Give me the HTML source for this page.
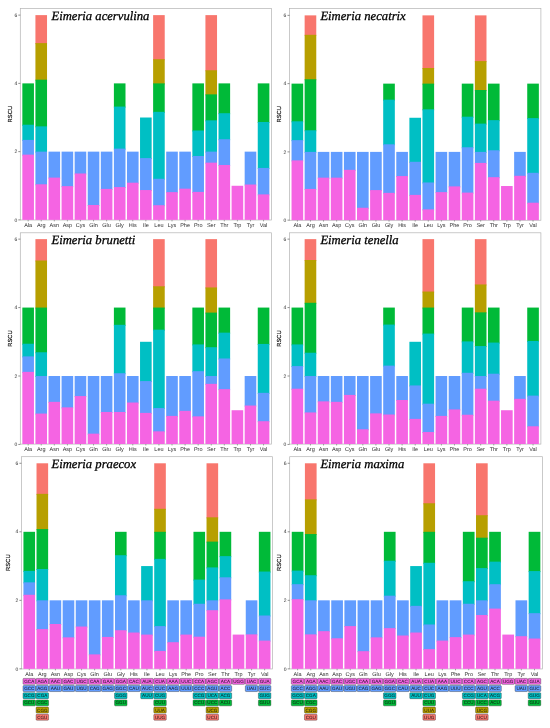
<!DOCTYPE html>
<html lang="en"><head><meta charset="utf-8"><title>RSCU of Eimeria species</title>
<style>html,body{margin:0;padding:0;background:#fff}svg{display:block}.t{font-family:"Liberation Serif",serif;font-weight:normal;font-style:italic;font-size:12.65px;fill:#000;stroke:#000;stroke-width:0.3px}.x{font-family:"Liberation Sans",sans-serif;font-size:5.5px;fill:#2e2e2e;text-anchor:middle}.y{font-family:"Liberation Sans",sans-serif;font-size:5.0px;fill:#222;text-anchor:end}.r{font-family:"Liberation Sans",sans-serif;font-size:5.85px;fill:#000;stroke:#000;stroke-width:0.15px;text-anchor:middle}.c{font-family:"Liberation Sans",sans-serif;font-size:4.6px;fill:#111;text-anchor:middle}</style></head><body>
<svg width="550" height="728" viewBox="0 0 550 728" text-rendering="geometricPrecision">
<rect x="0" y="0" width="550" height="728" fill="#fff"/>
<g>
<rect x="20.3" y="8.5" width="251.1" height="211.5" fill="none" stroke="#b3b3b3" stroke-width="0.7"/>
<rect x="22.34" y="83.38" width="11.61" height="42.33" fill="#00BA38"/>
<rect x="22.34" y="124.71" width="11.61" height="16.19" fill="#00BFC4"/>
<rect x="22.34" y="139.9" width="11.61" height="15.74" fill="#619CFF"/>
<rect x="22.34" y="154.64" width="11.61" height="65.26" fill="#F564E3"/>
<rect x="35.42" y="15.12" width="11.61" height="28.99" fill="#F8766D"/>
<rect x="35.42" y="43.11" width="11.61" height="37.59" fill="#B79F00"/>
<rect x="35.42" y="79.69" width="11.61" height="47.66" fill="#00BA38"/>
<rect x="35.42" y="126.35" width="11.61" height="26.29" fill="#00BFC4"/>
<rect x="35.42" y="151.64" width="11.61" height="33.66" fill="#619CFF"/>
<rect x="35.42" y="184.3" width="11.61" height="35.6" fill="#F564E3"/>
<rect x="48.5" y="151.64" width="11.61" height="26.97" fill="#619CFF"/>
<rect x="48.5" y="177.61" width="11.61" height="42.29" fill="#F564E3"/>
<rect x="61.57" y="151.64" width="11.61" height="35.51" fill="#619CFF"/>
<rect x="61.57" y="186.15" width="11.61" height="33.75" fill="#F564E3"/>
<rect x="74.65" y="151.64" width="11.61" height="22.84" fill="#619CFF"/>
<rect x="74.65" y="173.48" width="11.61" height="46.42" fill="#F564E3"/>
<rect x="87.73" y="151.64" width="11.61" height="54.35" fill="#619CFF"/>
<rect x="87.73" y="204.99" width="11.61" height="14.91" fill="#F564E3"/>
<rect x="100.81" y="151.64" width="11.61" height="38.27" fill="#619CFF"/>
<rect x="100.81" y="188.91" width="11.61" height="30.99" fill="#F564E3"/>
<rect x="113.89" y="83.38" width="11.61" height="24.21" fill="#00BA38"/>
<rect x="113.89" y="106.59" width="11.61" height="43.05" fill="#00BFC4"/>
<rect x="113.89" y="148.64" width="11.61" height="39.43" fill="#619CFF"/>
<rect x="113.89" y="187.07" width="11.61" height="32.83" fill="#F564E3"/>
<rect x="126.97" y="151.64" width="11.61" height="32.06" fill="#619CFF"/>
<rect x="126.97" y="182.7" width="11.61" height="37.2" fill="#F564E3"/>
<rect x="140.04" y="117.51" width="11.61" height="41.58" fill="#00BFC4"/>
<rect x="140.04" y="158.09" width="11.61" height="32.95" fill="#619CFF"/>
<rect x="140.04" y="190.04" width="11.61" height="29.86" fill="#F564E3"/>
<rect x="153.12" y="15.12" width="11.61" height="45.1" fill="#F8766D"/>
<rect x="153.12" y="59.22" width="11.61" height="25.16" fill="#B79F00"/>
<rect x="153.12" y="83.38" width="11.61" height="29.46" fill="#00BA38"/>
<rect x="153.12" y="111.84" width="11.61" height="67.93" fill="#00BFC4"/>
<rect x="153.12" y="178.77" width="11.61" height="27.45" fill="#619CFF"/>
<rect x="153.12" y="205.22" width="11.61" height="14.68" fill="#F564E3"/>
<rect x="166.2" y="151.64" width="11.61" height="41.48" fill="#619CFF"/>
<rect x="166.2" y="192.12" width="11.61" height="27.78" fill="#F564E3"/>
<rect x="179.28" y="151.64" width="11.61" height="38.03" fill="#619CFF"/>
<rect x="179.28" y="188.67" width="11.61" height="31.23" fill="#F564E3"/>
<rect x="192.36" y="83.38" width="11.61" height="48.1" fill="#00BA38"/>
<rect x="192.36" y="130.48" width="11.61" height="26.53" fill="#00BFC4"/>
<rect x="192.36" y="156.01" width="11.61" height="36.9" fill="#619CFF"/>
<rect x="192.36" y="191.91" width="11.61" height="27.99" fill="#F564E3"/>
<rect x="205.43" y="15.12" width="11.61" height="56.15" fill="#F8766D"/>
<rect x="205.43" y="70.27" width="11.61" height="25.1" fill="#B79F00"/>
<rect x="205.43" y="94.37" width="11.61" height="26.97" fill="#00BA38"/>
<rect x="205.43" y="120.34" width="11.61" height="32.3" fill="#00BFC4"/>
<rect x="205.43" y="151.64" width="11.61" height="12.02" fill="#619CFF"/>
<rect x="205.43" y="162.66" width="11.61" height="57.24" fill="#F564E3"/>
<rect x="218.51" y="83.38" width="11.61" height="30.83" fill="#00BA38"/>
<rect x="218.51" y="113.21" width="11.61" height="27.01" fill="#00BFC4"/>
<rect x="218.51" y="139.22" width="11.61" height="26.77" fill="#619CFF"/>
<rect x="218.51" y="164.98" width="11.61" height="54.92" fill="#F564E3"/>
<rect x="231.59" y="185.77" width="11.61" height="34.13" fill="#F564E3"/>
<rect x="244.67" y="151.64" width="11.61" height="33.9" fill="#619CFF"/>
<rect x="244.67" y="184.54" width="11.61" height="35.36" fill="#F564E3"/>
<rect x="257.75" y="83.38" width="11.61" height="39.6" fill="#00BA38"/>
<rect x="257.75" y="121.98" width="11.61" height="46.97" fill="#00BFC4"/>
<rect x="257.75" y="167.95" width="11.61" height="27.45" fill="#619CFF"/>
<rect x="257.75" y="194.4" width="11.61" height="25.5" fill="#F564E3"/>
<line x1="18.3" y1="219.9" x2="20.3" y2="219.9" stroke="#444" stroke-width="0.6"/>
<text class="y" x="17.2" y="221.55">0</text>
<line x1="18.3" y1="151.64" x2="20.3" y2="151.64" stroke="#444" stroke-width="0.6"/>
<text class="y" x="17.2" y="153.29">2</text>
<line x1="18.3" y1="83.38" x2="20.3" y2="83.38" stroke="#444" stroke-width="0.6"/>
<text class="y" x="17.2" y="85.03">4</text>
<line x1="18.3" y1="15.12" x2="20.3" y2="15.12" stroke="#444" stroke-width="0.6"/>
<text class="y" x="17.2" y="16.77">6</text>
<line x1="28.15" y1="219.9" x2="28.15" y2="221.4" stroke="#555" stroke-width="0.5"/>
<text class="x" x="28.15" y="226.65">Ala</text>
<line x1="41.22" y1="219.9" x2="41.22" y2="221.4" stroke="#555" stroke-width="0.5"/>
<text class="x" x="41.22" y="226.65">Arg</text>
<line x1="54.3" y1="219.9" x2="54.3" y2="221.4" stroke="#555" stroke-width="0.5"/>
<text class="x" x="54.3" y="226.65">Asn</text>
<line x1="67.38" y1="219.9" x2="67.38" y2="221.4" stroke="#555" stroke-width="0.5"/>
<text class="x" x="67.38" y="226.65">Asp</text>
<line x1="80.46" y1="219.9" x2="80.46" y2="221.4" stroke="#555" stroke-width="0.5"/>
<text class="x" x="80.46" y="226.65">Cys</text>
<line x1="93.54" y1="219.9" x2="93.54" y2="221.4" stroke="#555" stroke-width="0.5"/>
<text class="x" x="93.54" y="226.65">Gln</text>
<line x1="106.62" y1="219.9" x2="106.62" y2="221.4" stroke="#555" stroke-width="0.5"/>
<text class="x" x="106.62" y="226.65">Glu</text>
<line x1="119.69" y1="219.9" x2="119.69" y2="221.4" stroke="#555" stroke-width="0.5"/>
<text class="x" x="119.69" y="226.65">Gly</text>
<line x1="132.77" y1="219.9" x2="132.77" y2="221.4" stroke="#555" stroke-width="0.5"/>
<text class="x" x="132.77" y="226.65">His</text>
<line x1="145.85" y1="219.9" x2="145.85" y2="221.4" stroke="#555" stroke-width="0.5"/>
<text class="x" x="145.85" y="226.65">Ile</text>
<line x1="158.93" y1="219.9" x2="158.93" y2="221.4" stroke="#555" stroke-width="0.5"/>
<text class="x" x="158.93" y="226.65">Leu</text>
<line x1="172.01" y1="219.9" x2="172.01" y2="221.4" stroke="#555" stroke-width="0.5"/>
<text class="x" x="172.01" y="226.65">Lys</text>
<line x1="185.08" y1="219.9" x2="185.08" y2="221.4" stroke="#555" stroke-width="0.5"/>
<text class="x" x="185.08" y="226.65">Phe</text>
<line x1="198.16" y1="219.9" x2="198.16" y2="221.4" stroke="#555" stroke-width="0.5"/>
<text class="x" x="198.16" y="226.65">Pro</text>
<line x1="211.24" y1="219.9" x2="211.24" y2="221.4" stroke="#555" stroke-width="0.5"/>
<text class="x" x="211.24" y="226.65">Ser</text>
<line x1="224.32" y1="219.9" x2="224.32" y2="221.4" stroke="#555" stroke-width="0.5"/>
<text class="x" x="224.32" y="226.65">Thr</text>
<line x1="237.4" y1="219.9" x2="237.4" y2="221.4" stroke="#555" stroke-width="0.5"/>
<text class="x" x="237.4" y="226.65">Trp</text>
<line x1="250.47" y1="219.9" x2="250.47" y2="221.4" stroke="#555" stroke-width="0.5"/>
<text class="x" x="250.47" y="226.65">Tyr</text>
<line x1="263.55" y1="219.9" x2="263.55" y2="221.4" stroke="#555" stroke-width="0.5"/>
<text class="x" x="263.55" y="226.65">Val</text>
<text class="r" transform="translate(11.7 114.1) rotate(-90)">RSCU</text>
<text class="t" x="51.45" y="20.4">Eimeria acervulina</text>
</g>
<g>
<rect x="289.5" y="8.5" width="251.4" height="211.75" fill="none" stroke="#b3b3b3" stroke-width="0.7"/>
<rect x="291.54" y="83.63" width="11.63" height="38.68" fill="#00BA38"/>
<rect x="291.54" y="121.31" width="11.63" height="19.84" fill="#00BFC4"/>
<rect x="291.54" y="140.15" width="11.63" height="21.24" fill="#619CFF"/>
<rect x="291.54" y="160.39" width="11.63" height="59.76" fill="#F564E3"/>
<rect x="304.64" y="15.37" width="11.63" height="20.45" fill="#F8766D"/>
<rect x="304.64" y="34.82" width="11.63" height="45.44" fill="#B79F00"/>
<rect x="304.64" y="79.26" width="11.63" height="52.02" fill="#00BA38"/>
<rect x="304.64" y="130.29" width="11.63" height="22.6" fill="#00BFC4"/>
<rect x="304.64" y="151.89" width="11.63" height="38.03" fill="#619CFF"/>
<rect x="304.64" y="188.92" width="11.63" height="31.23" fill="#F564E3"/>
<rect x="317.73" y="151.89" width="11.63" height="26.77" fill="#619CFF"/>
<rect x="317.73" y="177.66" width="11.63" height="42.49" fill="#F564E3"/>
<rect x="330.82" y="151.89" width="11.63" height="26.77" fill="#619CFF"/>
<rect x="330.82" y="177.66" width="11.63" height="42.49" fill="#F564E3"/>
<rect x="343.92" y="151.89" width="11.63" height="18.95" fill="#619CFF"/>
<rect x="343.92" y="169.84" width="11.63" height="50.31" fill="#F564E3"/>
<rect x="357.01" y="151.89" width="11.63" height="56.87" fill="#619CFF"/>
<rect x="357.01" y="207.76" width="11.63" height="12.39" fill="#F564E3"/>
<rect x="370.11" y="151.89" width="11.63" height="39.19" fill="#619CFF"/>
<rect x="370.11" y="190.08" width="11.63" height="30.07" fill="#F564E3"/>
<rect x="383.2" y="83.63" width="11.63" height="17.04" fill="#00BA38"/>
<rect x="383.2" y="99.67" width="11.63" height="45.64" fill="#00BFC4"/>
<rect x="383.2" y="144.31" width="11.63" height="49.53" fill="#619CFF"/>
<rect x="383.2" y="192.85" width="11.63" height="27.3" fill="#F564E3"/>
<rect x="396.29" y="151.89" width="11.63" height="25.16" fill="#619CFF"/>
<rect x="396.29" y="176.05" width="11.63" height="44.1" fill="#F564E3"/>
<rect x="409.39" y="117.76" width="11.63" height="45.03" fill="#00BFC4"/>
<rect x="409.39" y="161.79" width="11.63" height="34.11" fill="#619CFF"/>
<rect x="409.39" y="194.89" width="11.63" height="25.26" fill="#F564E3"/>
<rect x="422.48" y="15.37" width="11.63" height="53.63" fill="#F8766D"/>
<rect x="422.48" y="68" width="11.63" height="16.63" fill="#B79F00"/>
<rect x="422.48" y="83.63" width="11.63" height="26.7" fill="#00BA38"/>
<rect x="422.48" y="109.33" width="11.63" height="74.14" fill="#00BFC4"/>
<rect x="422.48" y="182.47" width="11.63" height="27.93" fill="#619CFF"/>
<rect x="422.48" y="209.4" width="11.63" height="10.75" fill="#F564E3"/>
<rect x="435.57" y="151.89" width="11.63" height="41.24" fill="#619CFF"/>
<rect x="435.57" y="192.13" width="11.63" height="28.02" fill="#F564E3"/>
<rect x="448.67" y="151.89" width="11.63" height="35.51" fill="#619CFF"/>
<rect x="448.67" y="186.4" width="11.63" height="33.75" fill="#F564E3"/>
<rect x="461.76" y="83.63" width="11.63" height="34.07" fill="#00BA38"/>
<rect x="461.76" y="116.7" width="11.63" height="31.58" fill="#00BFC4"/>
<rect x="461.76" y="147.28" width="11.63" height="46.32" fill="#619CFF"/>
<rect x="461.76" y="192.61" width="11.63" height="27.54" fill="#F564E3"/>
<rect x="474.86" y="15.37" width="11.63" height="46.73" fill="#F8766D"/>
<rect x="474.86" y="61.1" width="11.63" height="29.91" fill="#B79F00"/>
<rect x="474.86" y="90.01" width="11.63" height="34.58" fill="#00BA38"/>
<rect x="474.86" y="123.6" width="11.63" height="29.29" fill="#00BFC4"/>
<rect x="474.86" y="151.89" width="11.63" height="12.02" fill="#619CFF"/>
<rect x="474.86" y="162.91" width="11.63" height="57.24" fill="#F564E3"/>
<rect x="487.95" y="83.63" width="11.63" height="37.52" fill="#00BA38"/>
<rect x="487.95" y="120.15" width="11.63" height="31.14" fill="#00BFC4"/>
<rect x="487.95" y="150.29" width="11.63" height="27.89" fill="#619CFF"/>
<rect x="487.95" y="177.18" width="11.63" height="42.97" fill="#F564E3"/>
<rect x="501.04" y="186.02" width="11.63" height="34.13" fill="#F564E3"/>
<rect x="514.14" y="151.89" width="11.63" height="24.89" fill="#619CFF"/>
<rect x="514.14" y="175.78" width="11.63" height="44.37" fill="#F564E3"/>
<rect x="527.23" y="83.63" width="11.63" height="35.47" fill="#00BA38"/>
<rect x="527.23" y="118.1" width="11.63" height="55.71" fill="#00BFC4"/>
<rect x="527.23" y="172.81" width="11.63" height="30.9" fill="#619CFF"/>
<rect x="527.23" y="202.71" width="11.63" height="17.44" fill="#F564E3"/>
<line x1="287.5" y1="220.15" x2="289.5" y2="220.15" stroke="#444" stroke-width="0.6"/>
<text class="y" x="286.4" y="221.8">0</text>
<line x1="287.5" y1="151.89" x2="289.5" y2="151.89" stroke="#444" stroke-width="0.6"/>
<text class="y" x="286.4" y="153.54">2</text>
<line x1="287.5" y1="83.63" x2="289.5" y2="83.63" stroke="#444" stroke-width="0.6"/>
<text class="y" x="286.4" y="85.28">4</text>
<line x1="287.5" y1="15.37" x2="289.5" y2="15.37" stroke="#444" stroke-width="0.6"/>
<text class="y" x="286.4" y="17.02">6</text>
<line x1="297.36" y1="220.15" x2="297.36" y2="221.65" stroke="#555" stroke-width="0.5"/>
<text class="x" x="297.36" y="226.65">Ala</text>
<line x1="310.45" y1="220.15" x2="310.45" y2="221.65" stroke="#555" stroke-width="0.5"/>
<text class="x" x="310.45" y="226.65">Arg</text>
<line x1="323.54" y1="220.15" x2="323.54" y2="221.65" stroke="#555" stroke-width="0.5"/>
<text class="x" x="323.54" y="226.65">Asn</text>
<line x1="336.64" y1="220.15" x2="336.64" y2="221.65" stroke="#555" stroke-width="0.5"/>
<text class="x" x="336.64" y="226.65">Asp</text>
<line x1="349.73" y1="220.15" x2="349.73" y2="221.65" stroke="#555" stroke-width="0.5"/>
<text class="x" x="349.73" y="226.65">Cys</text>
<line x1="362.82" y1="220.15" x2="362.82" y2="221.65" stroke="#555" stroke-width="0.5"/>
<text class="x" x="362.82" y="226.65">Gln</text>
<line x1="375.92" y1="220.15" x2="375.92" y2="221.65" stroke="#555" stroke-width="0.5"/>
<text class="x" x="375.92" y="226.65">Glu</text>
<line x1="389.01" y1="220.15" x2="389.01" y2="221.65" stroke="#555" stroke-width="0.5"/>
<text class="x" x="389.01" y="226.65">Gly</text>
<line x1="402.11" y1="220.15" x2="402.11" y2="221.65" stroke="#555" stroke-width="0.5"/>
<text class="x" x="402.11" y="226.65">His</text>
<line x1="415.2" y1="220.15" x2="415.2" y2="221.65" stroke="#555" stroke-width="0.5"/>
<text class="x" x="415.2" y="226.65">Ile</text>
<line x1="428.29" y1="220.15" x2="428.29" y2="221.65" stroke="#555" stroke-width="0.5"/>
<text class="x" x="428.29" y="226.65">Leu</text>
<line x1="441.39" y1="220.15" x2="441.39" y2="221.65" stroke="#555" stroke-width="0.5"/>
<text class="x" x="441.39" y="226.65">Lys</text>
<line x1="454.48" y1="220.15" x2="454.48" y2="221.65" stroke="#555" stroke-width="0.5"/>
<text class="x" x="454.48" y="226.65">Phe</text>
<line x1="467.57" y1="220.15" x2="467.57" y2="221.65" stroke="#555" stroke-width="0.5"/>
<text class="x" x="467.57" y="226.65">Pro</text>
<line x1="480.67" y1="220.15" x2="480.67" y2="221.65" stroke="#555" stroke-width="0.5"/>
<text class="x" x="480.67" y="226.65">Ser</text>
<line x1="493.76" y1="220.15" x2="493.76" y2="221.65" stroke="#555" stroke-width="0.5"/>
<text class="x" x="493.76" y="226.65">Thr</text>
<line x1="506.86" y1="220.15" x2="506.86" y2="221.65" stroke="#555" stroke-width="0.5"/>
<text class="x" x="506.86" y="226.65">Trp</text>
<line x1="519.95" y1="220.15" x2="519.95" y2="221.65" stroke="#555" stroke-width="0.5"/>
<text class="x" x="519.95" y="226.65">Tyr</text>
<line x1="533.04" y1="220.15" x2="533.04" y2="221.65" stroke="#555" stroke-width="0.5"/>
<text class="x" x="533.04" y="226.65">Val</text>
<text class="r" transform="translate(280.95 114.23) rotate(-90)">RSCU</text>
<text class="t" x="320.4" y="20.3">Eimeria necatrix</text>
</g>
<g>
<rect x="20.3" y="232.8" width="251.1" height="211.3" fill="none" stroke="#b3b3b3" stroke-width="0.7"/>
<rect x="22.34" y="307.57" width="11.61" height="37.17" fill="#00BA38"/>
<rect x="22.34" y="343.74" width="11.61" height="13.66" fill="#00BFC4"/>
<rect x="22.34" y="356.4" width="11.61" height="16.47" fill="#619CFF"/>
<rect x="22.34" y="371.87" width="11.61" height="72.13" fill="#F564E3"/>
<rect x="35.42" y="239.13" width="11.61" height="22.39" fill="#F8766D"/>
<rect x="35.42" y="260.52" width="11.61" height="48.05" fill="#B79F00"/>
<rect x="35.42" y="307.57" width="11.61" height="45.69" fill="#00BA38"/>
<rect x="35.42" y="352.26" width="11.61" height="24.75" fill="#00BFC4"/>
<rect x="35.42" y="376.01" width="11.61" height="38.57" fill="#619CFF"/>
<rect x="35.42" y="413.58" width="11.61" height="30.42" fill="#F564E3"/>
<rect x="48.5" y="376.01" width="11.61" height="26.84" fill="#619CFF"/>
<rect x="48.5" y="401.85" width="11.61" height="42.15" fill="#F564E3"/>
<rect x="61.57" y="376.01" width="11.61" height="32.35" fill="#619CFF"/>
<rect x="61.57" y="407.36" width="11.61" height="36.64" fill="#F564E3"/>
<rect x="74.65" y="376.01" width="11.61" height="21.05" fill="#619CFF"/>
<rect x="74.65" y="396.06" width="11.61" height="47.94" fill="#F564E3"/>
<rect x="87.73" y="376.01" width="11.61" height="58.66" fill="#619CFF"/>
<rect x="87.73" y="433.67" width="11.61" height="10.33" fill="#F564E3"/>
<rect x="100.81" y="376.01" width="11.61" height="36.97" fill="#619CFF"/>
<rect x="100.81" y="411.98" width="11.61" height="32.02" fill="#F564E3"/>
<rect x="113.89" y="307.57" width="11.61" height="18.25" fill="#00BA38"/>
<rect x="113.89" y="324.82" width="11.61" height="49.42" fill="#00BFC4"/>
<rect x="113.89" y="373.24" width="11.61" height="39.74" fill="#619CFF"/>
<rect x="113.89" y="411.98" width="11.61" height="32.02" fill="#F564E3"/>
<rect x="126.97" y="376.01" width="11.61" height="27.52" fill="#619CFF"/>
<rect x="126.97" y="402.53" width="11.61" height="41.47" fill="#F564E3"/>
<rect x="140.04" y="341.79" width="11.61" height="40.28" fill="#00BFC4"/>
<rect x="140.04" y="381.07" width="11.61" height="32.82" fill="#619CFF"/>
<rect x="140.04" y="412.9" width="11.61" height="31.1" fill="#F564E3"/>
<rect x="153.12" y="239.13" width="11.61" height="48.16" fill="#F8766D"/>
<rect x="153.12" y="286.29" width="11.61" height="22.28" fill="#B79F00"/>
<rect x="153.12" y="307.57" width="11.61" height="23.11" fill="#00BA38"/>
<rect x="153.12" y="329.68" width="11.61" height="79.4" fill="#00BFC4"/>
<rect x="153.12" y="408.07" width="11.61" height="24.27" fill="#619CFF"/>
<rect x="153.12" y="431.34" width="11.61" height="12.66" fill="#F564E3"/>
<rect x="166.2" y="376.01" width="11.61" height="40.9" fill="#619CFF"/>
<rect x="166.2" y="415.91" width="11.61" height="28.09" fill="#F564E3"/>
<rect x="179.28" y="376.01" width="11.61" height="35.84" fill="#619CFF"/>
<rect x="179.28" y="410.85" width="11.61" height="33.15" fill="#F564E3"/>
<rect x="192.36" y="307.57" width="11.61" height="37.85" fill="#00BA38"/>
<rect x="192.36" y="344.42" width="11.61" height="27.76" fill="#00BFC4"/>
<rect x="192.36" y="371.18" width="11.61" height="46.17" fill="#619CFF"/>
<rect x="192.36" y="416.36" width="11.61" height="27.64" fill="#F564E3"/>
<rect x="205.43" y="239.13" width="11.61" height="49.32" fill="#F8766D"/>
<rect x="205.43" y="287.45" width="11.61" height="26.15" fill="#B79F00"/>
<rect x="205.43" y="312.6" width="11.61" height="35.6" fill="#00BA38"/>
<rect x="205.43" y="347.2" width="11.61" height="29.81" fill="#00BFC4"/>
<rect x="205.43" y="376.01" width="11.61" height="8.84" fill="#619CFF"/>
<rect x="205.43" y="383.85" width="11.61" height="60.15" fill="#F564E3"/>
<rect x="218.51" y="307.57" width="11.61" height="26.08" fill="#00BA38"/>
<rect x="218.51" y="332.65" width="11.61" height="26.84" fill="#00BFC4"/>
<rect x="218.51" y="358.49" width="11.61" height="31.66" fill="#619CFF"/>
<rect x="218.51" y="389.15" width="11.61" height="54.85" fill="#F564E3"/>
<rect x="231.59" y="410.23" width="11.61" height="33.77" fill="#F564E3"/>
<rect x="244.67" y="376.01" width="11.61" height="30.53" fill="#619CFF"/>
<rect x="244.67" y="405.54" width="11.61" height="38.46" fill="#F564E3"/>
<rect x="257.75" y="307.57" width="11.61" height="37.38" fill="#00BA38"/>
<rect x="257.75" y="343.95" width="11.61" height="49.9" fill="#00BFC4"/>
<rect x="257.75" y="392.85" width="11.61" height="29.37" fill="#619CFF"/>
<rect x="257.75" y="421.21" width="11.61" height="22.79" fill="#F564E3"/>
<line x1="18.3" y1="444.45" x2="20.3" y2="444.45" stroke="#444" stroke-width="0.6"/>
<text class="y" x="17.2" y="446.1">0</text>
<line x1="18.3" y1="376.01" x2="20.3" y2="376.01" stroke="#444" stroke-width="0.6"/>
<text class="y" x="17.2" y="377.66">2</text>
<line x1="18.3" y1="307.57" x2="20.3" y2="307.57" stroke="#444" stroke-width="0.6"/>
<text class="y" x="17.2" y="309.22">4</text>
<line x1="18.3" y1="239.13" x2="20.3" y2="239.13" stroke="#444" stroke-width="0.6"/>
<text class="y" x="17.2" y="240.78">6</text>
<line x1="28.15" y1="444" x2="28.15" y2="445.5" stroke="#555" stroke-width="0.5"/>
<text class="x" x="28.15" y="451.25">Ala</text>
<line x1="41.22" y1="444" x2="41.22" y2="445.5" stroke="#555" stroke-width="0.5"/>
<text class="x" x="41.22" y="451.25">Arg</text>
<line x1="54.3" y1="444" x2="54.3" y2="445.5" stroke="#555" stroke-width="0.5"/>
<text class="x" x="54.3" y="451.25">Asn</text>
<line x1="67.38" y1="444" x2="67.38" y2="445.5" stroke="#555" stroke-width="0.5"/>
<text class="x" x="67.38" y="451.25">Asp</text>
<line x1="80.46" y1="444" x2="80.46" y2="445.5" stroke="#555" stroke-width="0.5"/>
<text class="x" x="80.46" y="451.25">Cys</text>
<line x1="93.54" y1="444" x2="93.54" y2="445.5" stroke="#555" stroke-width="0.5"/>
<text class="x" x="93.54" y="451.25">Gln</text>
<line x1="106.62" y1="444" x2="106.62" y2="445.5" stroke="#555" stroke-width="0.5"/>
<text class="x" x="106.62" y="451.25">Glu</text>
<line x1="119.69" y1="444" x2="119.69" y2="445.5" stroke="#555" stroke-width="0.5"/>
<text class="x" x="119.69" y="451.25">Gly</text>
<line x1="132.77" y1="444" x2="132.77" y2="445.5" stroke="#555" stroke-width="0.5"/>
<text class="x" x="132.77" y="451.25">His</text>
<line x1="145.85" y1="444" x2="145.85" y2="445.5" stroke="#555" stroke-width="0.5"/>
<text class="x" x="145.85" y="451.25">Ile</text>
<line x1="158.93" y1="444" x2="158.93" y2="445.5" stroke="#555" stroke-width="0.5"/>
<text class="x" x="158.93" y="451.25">Leu</text>
<line x1="172.01" y1="444" x2="172.01" y2="445.5" stroke="#555" stroke-width="0.5"/>
<text class="x" x="172.01" y="451.25">Lys</text>
<line x1="185.08" y1="444" x2="185.08" y2="445.5" stroke="#555" stroke-width="0.5"/>
<text class="x" x="185.08" y="451.25">Phe</text>
<line x1="198.16" y1="444" x2="198.16" y2="445.5" stroke="#555" stroke-width="0.5"/>
<text class="x" x="198.16" y="451.25">Pro</text>
<line x1="211.24" y1="444" x2="211.24" y2="445.5" stroke="#555" stroke-width="0.5"/>
<text class="x" x="211.24" y="451.25">Ser</text>
<line x1="224.32" y1="444" x2="224.32" y2="445.5" stroke="#555" stroke-width="0.5"/>
<text class="x" x="224.32" y="451.25">Thr</text>
<line x1="237.4" y1="444" x2="237.4" y2="445.5" stroke="#555" stroke-width="0.5"/>
<text class="x" x="237.4" y="451.25">Trp</text>
<line x1="250.47" y1="444" x2="250.47" y2="445.5" stroke="#555" stroke-width="0.5"/>
<text class="x" x="250.47" y="451.25">Tyr</text>
<line x1="263.55" y1="444" x2="263.55" y2="445.5" stroke="#555" stroke-width="0.5"/>
<text class="x" x="263.55" y="451.25">Val</text>
<text class="r" transform="translate(12.3 338.52) rotate(-90)">RSCU</text>
<text class="t" x="51.45" y="244.1">Eimeria brunetti</text>
</g>
<g>
<rect x="289.5" y="232.8" width="251.4" height="211.3" fill="none" stroke="#b3b3b3" stroke-width="0.7"/>
<rect x="291.54" y="307.57" width="11.63" height="37.85" fill="#00BA38"/>
<rect x="291.54" y="344.42" width="11.63" height="22.66" fill="#00BFC4"/>
<rect x="291.54" y="366.09" width="11.63" height="23.62" fill="#619CFF"/>
<rect x="291.54" y="388.71" width="11.63" height="55.29" fill="#F564E3"/>
<rect x="304.64" y="239.13" width="11.63" height="21.87" fill="#F8766D"/>
<rect x="304.64" y="260" width="11.63" height="43.78" fill="#B79F00"/>
<rect x="304.64" y="302.78" width="11.63" height="50.96" fill="#00BA38"/>
<rect x="304.64" y="352.74" width="11.63" height="24.27" fill="#00BFC4"/>
<rect x="304.64" y="376.01" width="11.63" height="37.44" fill="#619CFF"/>
<rect x="304.64" y="412.45" width="11.63" height="31.55" fill="#F564E3"/>
<rect x="317.73" y="376.01" width="11.63" height="26.36" fill="#619CFF"/>
<rect x="317.73" y="401.37" width="11.63" height="42.63" fill="#F564E3"/>
<rect x="330.82" y="376.01" width="11.63" height="26.84" fill="#619CFF"/>
<rect x="330.82" y="401.85" width="11.63" height="42.15" fill="#F564E3"/>
<rect x="343.92" y="376.01" width="11.63" height="19.92" fill="#619CFF"/>
<rect x="343.92" y="394.93" width="11.63" height="49.07" fill="#F564E3"/>
<rect x="357.01" y="376.01" width="11.63" height="54.28" fill="#619CFF"/>
<rect x="357.01" y="429.29" width="11.63" height="14.71" fill="#F564E3"/>
<rect x="370.11" y="376.01" width="11.63" height="38.37" fill="#619CFF"/>
<rect x="370.11" y="413.38" width="11.63" height="30.62" fill="#F564E3"/>
<rect x="383.2" y="307.57" width="11.63" height="18.01" fill="#00BA38"/>
<rect x="383.2" y="324.58" width="11.63" height="42.06" fill="#00BFC4"/>
<rect x="383.2" y="365.64" width="11.63" height="49.87" fill="#619CFF"/>
<rect x="383.2" y="414.51" width="11.63" height="29.49" fill="#F564E3"/>
<rect x="396.29" y="376.01" width="11.63" height="24.99" fill="#619CFF"/>
<rect x="396.29" y="400" width="11.63" height="44" fill="#F564E3"/>
<rect x="409.39" y="341.79" width="11.63" height="44.66" fill="#00BFC4"/>
<rect x="409.39" y="385.45" width="11.63" height="34.43" fill="#619CFF"/>
<rect x="409.39" y="418.89" width="11.63" height="25.11" fill="#F564E3"/>
<rect x="422.48" y="239.13" width="11.63" height="53.43" fill="#F8766D"/>
<rect x="422.48" y="291.56" width="11.63" height="17.01" fill="#B79F00"/>
<rect x="422.48" y="307.57" width="11.63" height="27.01" fill="#00BA38"/>
<rect x="422.48" y="333.58" width="11.63" height="71.12" fill="#00BFC4"/>
<rect x="422.48" y="403.69" width="11.63" height="29.33" fill="#619CFF"/>
<rect x="422.48" y="432.03" width="11.63" height="11.97" fill="#F564E3"/>
<rect x="435.57" y="376.01" width="11.63" height="40.9" fill="#619CFF"/>
<rect x="435.57" y="415.91" width="11.63" height="28.09" fill="#F564E3"/>
<rect x="448.67" y="376.01" width="11.63" height="34.43" fill="#619CFF"/>
<rect x="448.67" y="409.44" width="11.63" height="34.56" fill="#F564E3"/>
<rect x="461.76" y="307.57" width="11.63" height="34.84" fill="#00BA38"/>
<rect x="461.76" y="341.41" width="11.63" height="32.38" fill="#00BFC4"/>
<rect x="461.76" y="372.79" width="11.63" height="42.95" fill="#619CFF"/>
<rect x="461.76" y="414.75" width="11.63" height="29.25" fill="#F564E3"/>
<rect x="474.86" y="239.13" width="11.63" height="46.34" fill="#F8766D"/>
<rect x="474.86" y="284.47" width="11.63" height="28.89" fill="#B79F00"/>
<rect x="474.86" y="312.36" width="11.63" height="34.67" fill="#00BA38"/>
<rect x="474.86" y="346.03" width="11.63" height="30.98" fill="#00BFC4"/>
<rect x="474.86" y="376.01" width="11.63" height="13.7" fill="#619CFF"/>
<rect x="474.86" y="388.71" width="11.63" height="55.29" fill="#F564E3"/>
<rect x="487.95" y="307.57" width="11.63" height="36.01" fill="#00BA38"/>
<rect x="487.95" y="342.58" width="11.63" height="32.14" fill="#00BFC4"/>
<rect x="487.95" y="373.72" width="11.63" height="27.97" fill="#619CFF"/>
<rect x="487.95" y="400.68" width="11.63" height="43.32" fill="#F564E3"/>
<rect x="501.04" y="410.23" width="11.63" height="33.77" fill="#F564E3"/>
<rect x="514.14" y="376.01" width="11.63" height="23.82" fill="#619CFF"/>
<rect x="514.14" y="398.83" width="11.63" height="45.17" fill="#F564E3"/>
<rect x="527.23" y="307.57" width="11.63" height="34.4" fill="#00BA38"/>
<rect x="527.23" y="340.97" width="11.63" height="55.65" fill="#00BFC4"/>
<rect x="527.23" y="395.62" width="11.63" height="31.66" fill="#619CFF"/>
<rect x="527.23" y="426.28" width="11.63" height="17.72" fill="#F564E3"/>
<line x1="287.5" y1="444.45" x2="289.5" y2="444.45" stroke="#444" stroke-width="0.6"/>
<text class="y" x="286.4" y="446.1">0</text>
<line x1="287.5" y1="376.01" x2="289.5" y2="376.01" stroke="#444" stroke-width="0.6"/>
<text class="y" x="286.4" y="377.66">2</text>
<line x1="287.5" y1="307.57" x2="289.5" y2="307.57" stroke="#444" stroke-width="0.6"/>
<text class="y" x="286.4" y="309.22">4</text>
<line x1="287.5" y1="239.13" x2="289.5" y2="239.13" stroke="#444" stroke-width="0.6"/>
<text class="y" x="286.4" y="240.78">6</text>
<line x1="297.36" y1="444" x2="297.36" y2="445.5" stroke="#555" stroke-width="0.5"/>
<text class="x" x="297.36" y="451.25">Ala</text>
<line x1="310.45" y1="444" x2="310.45" y2="445.5" stroke="#555" stroke-width="0.5"/>
<text class="x" x="310.45" y="451.25">Arg</text>
<line x1="323.54" y1="444" x2="323.54" y2="445.5" stroke="#555" stroke-width="0.5"/>
<text class="x" x="323.54" y="451.25">Asn</text>
<line x1="336.64" y1="444" x2="336.64" y2="445.5" stroke="#555" stroke-width="0.5"/>
<text class="x" x="336.64" y="451.25">Asp</text>
<line x1="349.73" y1="444" x2="349.73" y2="445.5" stroke="#555" stroke-width="0.5"/>
<text class="x" x="349.73" y="451.25">Cys</text>
<line x1="362.82" y1="444" x2="362.82" y2="445.5" stroke="#555" stroke-width="0.5"/>
<text class="x" x="362.82" y="451.25">Gln</text>
<line x1="375.92" y1="444" x2="375.92" y2="445.5" stroke="#555" stroke-width="0.5"/>
<text class="x" x="375.92" y="451.25">Glu</text>
<line x1="389.01" y1="444" x2="389.01" y2="445.5" stroke="#555" stroke-width="0.5"/>
<text class="x" x="389.01" y="451.25">Gly</text>
<line x1="402.11" y1="444" x2="402.11" y2="445.5" stroke="#555" stroke-width="0.5"/>
<text class="x" x="402.11" y="451.25">His</text>
<line x1="415.2" y1="444" x2="415.2" y2="445.5" stroke="#555" stroke-width="0.5"/>
<text class="x" x="415.2" y="451.25">Ile</text>
<line x1="428.29" y1="444" x2="428.29" y2="445.5" stroke="#555" stroke-width="0.5"/>
<text class="x" x="428.29" y="451.25">Leu</text>
<line x1="441.39" y1="444" x2="441.39" y2="445.5" stroke="#555" stroke-width="0.5"/>
<text class="x" x="441.39" y="451.25">Lys</text>
<line x1="454.48" y1="444" x2="454.48" y2="445.5" stroke="#555" stroke-width="0.5"/>
<text class="x" x="454.48" y="451.25">Phe</text>
<line x1="467.57" y1="444" x2="467.57" y2="445.5" stroke="#555" stroke-width="0.5"/>
<text class="x" x="467.57" y="451.25">Pro</text>
<line x1="480.67" y1="444" x2="480.67" y2="445.5" stroke="#555" stroke-width="0.5"/>
<text class="x" x="480.67" y="451.25">Ser</text>
<line x1="493.76" y1="444" x2="493.76" y2="445.5" stroke="#555" stroke-width="0.5"/>
<text class="x" x="493.76" y="451.25">Thr</text>
<line x1="506.86" y1="444" x2="506.86" y2="445.5" stroke="#555" stroke-width="0.5"/>
<text class="x" x="506.86" y="451.25">Trp</text>
<line x1="519.95" y1="444" x2="519.95" y2="445.5" stroke="#555" stroke-width="0.5"/>
<text class="x" x="519.95" y="451.25">Tyr</text>
<line x1="533.04" y1="444" x2="533.04" y2="445.5" stroke="#555" stroke-width="0.5"/>
<text class="x" x="533.04" y="451.25">Val</text>
<text class="r" transform="translate(281 338.52) rotate(-90)">RSCU</text>
<text class="t" x="320.4" y="243.8">Eimeria tenella</text>
</g>
<g>
<rect x="21.4" y="456.7" width="251.1" height="212.25" fill="none" stroke="#b3b3b3" stroke-width="0.7"/>
<rect x="23.44" y="531.81" width="11.61" height="40.06" fill="#00BA38"/>
<rect x="23.44" y="570.87" width="11.61" height="12.48" fill="#00BFC4"/>
<rect x="23.44" y="582.34" width="11.61" height="13.44" fill="#619CFF"/>
<rect x="23.44" y="594.78" width="11.61" height="74.07" fill="#F564E3"/>
<rect x="36.52" y="463.29" width="11.61" height="31.56" fill="#F8766D"/>
<rect x="36.52" y="493.85" width="11.61" height="36.22" fill="#B79F00"/>
<rect x="36.52" y="529.07" width="11.61" height="40.95" fill="#00BA38"/>
<rect x="36.52" y="569.02" width="11.61" height="32.31" fill="#00BFC4"/>
<rect x="36.52" y="600.33" width="11.61" height="29.74" fill="#619CFF"/>
<rect x="36.52" y="629.07" width="11.61" height="39.78" fill="#F564E3"/>
<rect x="49.6" y="600.33" width="11.61" height="24.67" fill="#619CFF"/>
<rect x="49.6" y="624" width="11.61" height="44.85" fill="#F564E3"/>
<rect x="62.67" y="600.33" width="11.61" height="38.04" fill="#619CFF"/>
<rect x="62.67" y="637.37" width="11.61" height="31.48" fill="#F564E3"/>
<rect x="75.75" y="600.33" width="11.61" height="27.21" fill="#619CFF"/>
<rect x="75.75" y="626.54" width="11.61" height="42.31" fill="#F564E3"/>
<rect x="88.83" y="600.33" width="11.61" height="55.06" fill="#619CFF"/>
<rect x="88.83" y="654.39" width="11.61" height="14.46" fill="#F564E3"/>
<rect x="101.91" y="600.33" width="11.61" height="37.59" fill="#619CFF"/>
<rect x="101.91" y="636.92" width="11.61" height="31.93" fill="#F564E3"/>
<rect x="114.99" y="531.81" width="11.61" height="24.4" fill="#00BA38"/>
<rect x="114.99" y="555.21" width="11.61" height="41.05" fill="#00BFC4"/>
<rect x="114.99" y="595.26" width="11.61" height="35.98" fill="#619CFF"/>
<rect x="114.99" y="630.24" width="11.61" height="38.61" fill="#F564E3"/>
<rect x="128.07" y="600.33" width="11.61" height="33.2" fill="#619CFF"/>
<rect x="128.07" y="632.53" width="11.61" height="36.32" fill="#F564E3"/>
<rect x="141.14" y="566.07" width="11.61" height="35.26" fill="#00BFC4"/>
<rect x="141.14" y="600.33" width="11.61" height="35.26" fill="#619CFF"/>
<rect x="141.14" y="634.59" width="11.61" height="34.26" fill="#F564E3"/>
<rect x="154.22" y="463.29" width="11.61" height="46.5" fill="#F8766D"/>
<rect x="154.22" y="508.79" width="11.61" height="24.02" fill="#B79F00"/>
<rect x="154.22" y="531.81" width="11.61" height="28.07" fill="#00BA38"/>
<rect x="154.22" y="558.88" width="11.61" height="68.22" fill="#00BFC4"/>
<rect x="154.22" y="626.09" width="11.61" height="25.84" fill="#619CFF"/>
<rect x="154.22" y="650.93" width="11.61" height="17.92" fill="#F564E3"/>
<rect x="167.3" y="600.33" width="11.61" height="42.87" fill="#619CFF"/>
<rect x="167.3" y="642.2" width="11.61" height="26.65" fill="#F564E3"/>
<rect x="180.38" y="600.33" width="11.61" height="35.26" fill="#619CFF"/>
<rect x="180.38" y="634.59" width="11.61" height="34.26" fill="#F564E3"/>
<rect x="193.46" y="531.81" width="11.61" height="48.79" fill="#00BA38"/>
<rect x="193.46" y="579.6" width="11.61" height="25.15" fill="#00BFC4"/>
<rect x="193.46" y="603.76" width="11.61" height="33.92" fill="#619CFF"/>
<rect x="193.46" y="636.68" width="11.61" height="32.17" fill="#F564E3"/>
<rect x="206.53" y="463.29" width="11.61" height="55.03" fill="#F8766D"/>
<rect x="206.53" y="517.32" width="11.61" height="25.29" fill="#B79F00"/>
<rect x="206.53" y="541.61" width="11.61" height="26.8" fill="#00BA38"/>
<rect x="206.53" y="567.41" width="11.61" height="33.92" fill="#00BFC4"/>
<rect x="206.53" y="600.33" width="11.61" height="10.87" fill="#619CFF"/>
<rect x="206.53" y="610.2" width="11.61" height="58.65" fill="#F564E3"/>
<rect x="219.61" y="531.81" width="11.61" height="25.32" fill="#00BA38"/>
<rect x="219.61" y="556.13" width="11.61" height="22.17" fill="#00BFC4"/>
<rect x="219.61" y="577.31" width="11.61" height="23.1" fill="#619CFF"/>
<rect x="219.61" y="599.4" width="11.61" height="69.45" fill="#F564E3"/>
<rect x="232.69" y="634.59" width="11.61" height="34.26" fill="#F564E3"/>
<rect x="245.77" y="600.33" width="11.61" height="35.05" fill="#619CFF"/>
<rect x="245.77" y="634.38" width="11.61" height="34.47" fill="#F564E3"/>
<rect x="258.85" y="531.81" width="11.61" height="40.74" fill="#00BA38"/>
<rect x="258.85" y="571.55" width="11.61" height="44.96" fill="#00BFC4"/>
<rect x="258.85" y="615.51" width="11.61" height="26.08" fill="#619CFF"/>
<rect x="258.85" y="640.59" width="11.61" height="28.26" fill="#F564E3"/>
<line x1="19.4" y1="668.85" x2="21.4" y2="668.85" stroke="#444" stroke-width="0.6"/>
<text class="y" x="18.3" y="670.5">0</text>
<line x1="19.4" y1="600.33" x2="21.4" y2="600.33" stroke="#444" stroke-width="0.6"/>
<text class="y" x="18.3" y="601.98">2</text>
<line x1="19.4" y1="531.81" x2="21.4" y2="531.81" stroke="#444" stroke-width="0.6"/>
<text class="y" x="18.3" y="533.46">4</text>
<line x1="19.4" y1="463.29" x2="21.4" y2="463.29" stroke="#444" stroke-width="0.6"/>
<text class="y" x="18.3" y="464.94">6</text>
<line x1="29.25" y1="668.85" x2="29.25" y2="670.35" stroke="#555" stroke-width="0.5"/>
<text class="x" x="29.25" y="675.6">Ala</text>
<line x1="42.33" y1="668.85" x2="42.33" y2="670.35" stroke="#555" stroke-width="0.5"/>
<text class="x" x="42.33" y="675.6">Arg</text>
<line x1="55.4" y1="668.85" x2="55.4" y2="670.35" stroke="#555" stroke-width="0.5"/>
<text class="x" x="55.4" y="675.6">Asn</text>
<line x1="68.48" y1="668.85" x2="68.48" y2="670.35" stroke="#555" stroke-width="0.5"/>
<text class="x" x="68.48" y="675.6">Asp</text>
<line x1="81.56" y1="668.85" x2="81.56" y2="670.35" stroke="#555" stroke-width="0.5"/>
<text class="x" x="81.56" y="675.6">Cys</text>
<line x1="94.64" y1="668.85" x2="94.64" y2="670.35" stroke="#555" stroke-width="0.5"/>
<text class="x" x="94.64" y="675.6">Gln</text>
<line x1="107.72" y1="668.85" x2="107.72" y2="670.35" stroke="#555" stroke-width="0.5"/>
<text class="x" x="107.72" y="675.6">Glu</text>
<line x1="120.79" y1="668.85" x2="120.79" y2="670.35" stroke="#555" stroke-width="0.5"/>
<text class="x" x="120.79" y="675.6">Gly</text>
<line x1="133.87" y1="668.85" x2="133.87" y2="670.35" stroke="#555" stroke-width="0.5"/>
<text class="x" x="133.87" y="675.6">His</text>
<line x1="146.95" y1="668.85" x2="146.95" y2="670.35" stroke="#555" stroke-width="0.5"/>
<text class="x" x="146.95" y="675.6">Ile</text>
<line x1="160.03" y1="668.85" x2="160.03" y2="670.35" stroke="#555" stroke-width="0.5"/>
<text class="x" x="160.03" y="675.6">Leu</text>
<line x1="173.11" y1="668.85" x2="173.11" y2="670.35" stroke="#555" stroke-width="0.5"/>
<text class="x" x="173.11" y="675.6">Lys</text>
<line x1="186.18" y1="668.85" x2="186.18" y2="670.35" stroke="#555" stroke-width="0.5"/>
<text class="x" x="186.18" y="675.6">Phe</text>
<line x1="199.26" y1="668.85" x2="199.26" y2="670.35" stroke="#555" stroke-width="0.5"/>
<text class="x" x="199.26" y="675.6">Pro</text>
<line x1="212.34" y1="668.85" x2="212.34" y2="670.35" stroke="#555" stroke-width="0.5"/>
<text class="x" x="212.34" y="675.6">Ser</text>
<line x1="225.42" y1="668.85" x2="225.42" y2="670.35" stroke="#555" stroke-width="0.5"/>
<text class="x" x="225.42" y="675.6">Thr</text>
<line x1="238.5" y1="668.85" x2="238.5" y2="670.35" stroke="#555" stroke-width="0.5"/>
<text class="x" x="238.5" y="675.6">Trp</text>
<line x1="251.58" y1="668.85" x2="251.58" y2="670.35" stroke="#555" stroke-width="0.5"/>
<text class="x" x="251.58" y="675.6">Tyr</text>
<line x1="264.65" y1="668.85" x2="264.65" y2="670.35" stroke="#555" stroke-width="0.5"/>
<text class="x" x="264.65" y="675.6">Val</text>
<text class="r" transform="translate(10.1 562.67) rotate(-90)">RSCU</text>
<text class="t" x="51.45" y="467.5">Eimeria praecox</text>
</g>
<g>
<rect x="289.7" y="456.7" width="252.7" height="212.25" fill="none" stroke="#b3b3b3" stroke-width="0.7"/>
<rect x="291.75" y="531.81" width="11.69" height="39.82" fill="#00BA38"/>
<rect x="291.75" y="570.63" width="11.69" height="14.57" fill="#00BFC4"/>
<rect x="291.75" y="584.19" width="11.69" height="15.97" fill="#619CFF"/>
<rect x="291.75" y="599.17" width="11.69" height="69.68" fill="#F564E3"/>
<rect x="304.91" y="463.29" width="11.69" height="37.08" fill="#F8766D"/>
<rect x="304.91" y="499.37" width="11.69" height="35.67" fill="#B79F00"/>
<rect x="304.91" y="534.04" width="11.69" height="42.18" fill="#00BA38"/>
<rect x="304.91" y="575.22" width="11.69" height="26.11" fill="#00BFC4"/>
<rect x="304.91" y="600.33" width="11.69" height="35.05" fill="#619CFF"/>
<rect x="304.91" y="634.38" width="11.69" height="34.47" fill="#F564E3"/>
<rect x="318.08" y="600.33" width="11.69" height="31.83" fill="#619CFF"/>
<rect x="318.08" y="631.16" width="11.69" height="37.69" fill="#F564E3"/>
<rect x="331.24" y="600.33" width="11.69" height="38.96" fill="#619CFF"/>
<rect x="331.24" y="638.29" width="11.69" height="30.56" fill="#F564E3"/>
<rect x="344.4" y="600.33" width="11.69" height="26.76" fill="#619CFF"/>
<rect x="344.4" y="626.09" width="11.69" height="42.76" fill="#F564E3"/>
<rect x="357.56" y="600.33" width="11.69" height="51.84" fill="#619CFF"/>
<rect x="357.56" y="651.17" width="11.69" height="17.68" fill="#F564E3"/>
<rect x="370.72" y="600.33" width="11.69" height="38.04" fill="#619CFF"/>
<rect x="370.72" y="637.37" width="11.69" height="31.48" fill="#F564E3"/>
<rect x="383.88" y="531.81" width="11.69" height="29.92" fill="#00BA38"/>
<rect x="383.88" y="560.73" width="11.69" height="35.98" fill="#00BFC4"/>
<rect x="383.88" y="595.7" width="11.69" height="33.44" fill="#619CFF"/>
<rect x="383.88" y="628.15" width="11.69" height="40.7" fill="#F564E3"/>
<rect x="397.04" y="600.33" width="11.69" height="36.19" fill="#619CFF"/>
<rect x="397.04" y="635.52" width="11.69" height="33.33" fill="#F564E3"/>
<rect x="410.21" y="566.07" width="11.69" height="40.78" fill="#00BFC4"/>
<rect x="410.21" y="605.85" width="11.69" height="27.69" fill="#619CFF"/>
<rect x="410.21" y="632.53" width="11.69" height="36.32" fill="#F564E3"/>
<rect x="423.37" y="463.29" width="11.69" height="40.98" fill="#F8766D"/>
<rect x="423.37" y="503.27" width="11.69" height="29.54" fill="#B79F00"/>
<rect x="423.37" y="531.81" width="11.69" height="31.97" fill="#00BA38"/>
<rect x="423.37" y="562.78" width="11.69" height="62.7" fill="#00BFC4"/>
<rect x="423.37" y="624.48" width="11.69" height="25.63" fill="#619CFF"/>
<rect x="423.37" y="649.12" width="11.69" height="19.73" fill="#F564E3"/>
<rect x="436.53" y="600.33" width="11.69" height="41.26" fill="#619CFF"/>
<rect x="436.53" y="640.59" width="11.69" height="28.26" fill="#F564E3"/>
<rect x="449.69" y="600.33" width="11.69" height="37.8" fill="#619CFF"/>
<rect x="449.69" y="637.13" width="11.69" height="31.72" fill="#F564E3"/>
<rect x="462.85" y="531.81" width="11.69" height="50.4" fill="#00BA38"/>
<rect x="462.85" y="581.21" width="11.69" height="23.54" fill="#00BFC4"/>
<rect x="462.85" y="603.76" width="11.69" height="31.83" fill="#619CFF"/>
<rect x="462.85" y="634.59" width="11.69" height="34.26" fill="#F564E3"/>
<rect x="476.01" y="463.29" width="11.69" height="52.94" fill="#F8766D"/>
<rect x="476.01" y="515.23" width="11.69" height="23.47" fill="#B79F00"/>
<rect x="476.01" y="537.7" width="11.69" height="31.39" fill="#00BA38"/>
<rect x="476.01" y="568.09" width="11.69" height="33.24" fill="#00BFC4"/>
<rect x="476.01" y="600.33" width="11.69" height="15.7" fill="#619CFF"/>
<rect x="476.01" y="615.03" width="11.69" height="53.82" fill="#F564E3"/>
<rect x="489.18" y="531.81" width="11.69" height="30.84" fill="#00BA38"/>
<rect x="489.18" y="561.65" width="11.69" height="23.54" fill="#00BFC4"/>
<rect x="489.18" y="584.19" width="11.69" height="25.39" fill="#619CFF"/>
<rect x="489.18" y="608.59" width="11.69" height="60.26" fill="#F564E3"/>
<rect x="502.34" y="634.59" width="11.69" height="34.26" fill="#F564E3"/>
<rect x="515.5" y="600.33" width="11.69" height="36.87" fill="#619CFF"/>
<rect x="515.5" y="636.2" width="11.69" height="32.65" fill="#F564E3"/>
<rect x="528.66" y="531.81" width="11.69" height="40.26" fill="#00BA38"/>
<rect x="528.66" y="571.07" width="11.69" height="43.11" fill="#00BFC4"/>
<rect x="528.66" y="613.18" width="11.69" height="26.35" fill="#619CFF"/>
<rect x="528.66" y="638.53" width="11.69" height="30.32" fill="#F564E3"/>
<line x1="287.7" y1="668.85" x2="289.7" y2="668.85" stroke="#444" stroke-width="0.6"/>
<text class="y" x="286.6" y="670.5">0</text>
<line x1="287.7" y1="600.33" x2="289.7" y2="600.33" stroke="#444" stroke-width="0.6"/>
<text class="y" x="286.6" y="601.98">2</text>
<line x1="287.7" y1="531.81" x2="289.7" y2="531.81" stroke="#444" stroke-width="0.6"/>
<text class="y" x="286.6" y="533.46">4</text>
<line x1="287.7" y1="463.29" x2="289.7" y2="463.29" stroke="#444" stroke-width="0.6"/>
<text class="y" x="286.6" y="464.94">6</text>
<line x1="297.6" y1="668.85" x2="297.6" y2="670.35" stroke="#555" stroke-width="0.5"/>
<text class="x" x="297.6" y="675.6">Ala</text>
<line x1="310.76" y1="668.85" x2="310.76" y2="670.35" stroke="#555" stroke-width="0.5"/>
<text class="x" x="310.76" y="675.6">Arg</text>
<line x1="323.92" y1="668.85" x2="323.92" y2="670.35" stroke="#555" stroke-width="0.5"/>
<text class="x" x="323.92" y="675.6">Asn</text>
<line x1="337.08" y1="668.85" x2="337.08" y2="670.35" stroke="#555" stroke-width="0.5"/>
<text class="x" x="337.08" y="675.6">Asp</text>
<line x1="350.24" y1="668.85" x2="350.24" y2="670.35" stroke="#555" stroke-width="0.5"/>
<text class="x" x="350.24" y="675.6">Cys</text>
<line x1="363.4" y1="668.85" x2="363.4" y2="670.35" stroke="#555" stroke-width="0.5"/>
<text class="x" x="363.4" y="675.6">Gln</text>
<line x1="376.57" y1="668.85" x2="376.57" y2="670.35" stroke="#555" stroke-width="0.5"/>
<text class="x" x="376.57" y="675.6">Glu</text>
<line x1="389.73" y1="668.85" x2="389.73" y2="670.35" stroke="#555" stroke-width="0.5"/>
<text class="x" x="389.73" y="675.6">Gly</text>
<line x1="402.89" y1="668.85" x2="402.89" y2="670.35" stroke="#555" stroke-width="0.5"/>
<text class="x" x="402.89" y="675.6">His</text>
<line x1="416.05" y1="668.85" x2="416.05" y2="670.35" stroke="#555" stroke-width="0.5"/>
<text class="x" x="416.05" y="675.6">Ile</text>
<line x1="429.21" y1="668.85" x2="429.21" y2="670.35" stroke="#555" stroke-width="0.5"/>
<text class="x" x="429.21" y="675.6">Leu</text>
<line x1="442.37" y1="668.85" x2="442.37" y2="670.35" stroke="#555" stroke-width="0.5"/>
<text class="x" x="442.37" y="675.6">Lys</text>
<line x1="455.53" y1="668.85" x2="455.53" y2="670.35" stroke="#555" stroke-width="0.5"/>
<text class="x" x="455.53" y="675.6">Phe</text>
<line x1="468.7" y1="668.85" x2="468.7" y2="670.35" stroke="#555" stroke-width="0.5"/>
<text class="x" x="468.7" y="675.6">Pro</text>
<line x1="481.86" y1="668.85" x2="481.86" y2="670.35" stroke="#555" stroke-width="0.5"/>
<text class="x" x="481.86" y="675.6">Ser</text>
<line x1="495.02" y1="668.85" x2="495.02" y2="670.35" stroke="#555" stroke-width="0.5"/>
<text class="x" x="495.02" y="675.6">Thr</text>
<line x1="508.18" y1="668.85" x2="508.18" y2="670.35" stroke="#555" stroke-width="0.5"/>
<text class="x" x="508.18" y="675.6">Trp</text>
<line x1="521.34" y1="668.85" x2="521.34" y2="670.35" stroke="#555" stroke-width="0.5"/>
<text class="x" x="521.34" y="675.6">Tyr</text>
<line x1="534.5" y1="668.85" x2="534.5" y2="670.35" stroke="#555" stroke-width="0.5"/>
<text class="x" x="534.5" y="675.6">Val</text>
<text class="r" transform="translate(281.05 562.67) rotate(-90)">RSCU</text>
<text class="t" x="320.4" y="467.75">Eimeria maxima</text>
</g>
<g>
<rect x="23.01" y="678.4" width="12.48" height="5.95" rx="0.8" ry="0.8" fill="#F564E3" stroke="#000" stroke-opacity="0.7" stroke-width="0.45"/>
<text class="c" x="29.25" y="682.92">GCA</text>
<rect x="23.01" y="685.6" width="12.48" height="5.95" rx="0.8" ry="0.8" fill="#619CFF" stroke="#000" stroke-opacity="0.7" stroke-width="0.45"/>
<text class="c" x="29.25" y="690.12">GCC</text>
<rect x="23.01" y="692.75" width="12.48" height="5.95" rx="0.8" ry="0.8" fill="#00BFC4" stroke="#000" stroke-opacity="0.7" stroke-width="0.45"/>
<text class="c" x="29.25" y="697.27">GCG</text>
<rect x="23.01" y="699.9" width="12.48" height="5.95" rx="0.8" ry="0.8" fill="#00BA38" stroke="#000" stroke-opacity="0.7" stroke-width="0.45"/>
<text class="c" x="29.25" y="704.42">GCU</text>
<rect x="36.09" y="678.4" width="12.48" height="5.95" rx="0.8" ry="0.8" fill="#F564E3" stroke="#000" stroke-opacity="0.7" stroke-width="0.45"/>
<text class="c" x="42.33" y="682.92">AGA</text>
<rect x="36.09" y="685.6" width="12.48" height="5.95" rx="0.8" ry="0.8" fill="#619CFF" stroke="#000" stroke-opacity="0.7" stroke-width="0.45"/>
<text class="c" x="42.33" y="690.12">AGG</text>
<rect x="36.09" y="692.75" width="12.48" height="5.95" rx="0.8" ry="0.8" fill="#00BFC4" stroke="#000" stroke-opacity="0.7" stroke-width="0.45"/>
<text class="c" x="42.33" y="697.27">CGA</text>
<rect x="36.09" y="699.9" width="12.48" height="5.95" rx="0.8" ry="0.8" fill="#00BA38" stroke="#000" stroke-opacity="0.7" stroke-width="0.45"/>
<text class="c" x="42.33" y="704.42">CGC</text>
<rect x="36.09" y="707.1" width="12.48" height="5.95" rx="0.8" ry="0.8" fill="#B79F00" stroke="#000" stroke-opacity="0.7" stroke-width="0.45"/>
<text class="c" x="42.33" y="711.62">CGG</text>
<rect x="36.09" y="714.25" width="12.48" height="5.95" rx="0.8" ry="0.8" fill="#F8766D" stroke="#000" stroke-opacity="0.7" stroke-width="0.45"/>
<text class="c" x="42.33" y="718.77">CGU</text>
<rect x="49.16" y="678.4" width="12.48" height="5.95" rx="0.8" ry="0.8" fill="#F564E3" stroke="#000" stroke-opacity="0.7" stroke-width="0.45"/>
<text class="c" x="55.4" y="682.92">AAC</text>
<rect x="49.16" y="685.6" width="12.48" height="5.95" rx="0.8" ry="0.8" fill="#619CFF" stroke="#000" stroke-opacity="0.7" stroke-width="0.45"/>
<text class="c" x="55.4" y="690.12">AAU</text>
<rect x="62.24" y="678.4" width="12.48" height="5.95" rx="0.8" ry="0.8" fill="#F564E3" stroke="#000" stroke-opacity="0.7" stroke-width="0.45"/>
<text class="c" x="68.48" y="682.92">GAC</text>
<rect x="62.24" y="685.6" width="12.48" height="5.95" rx="0.8" ry="0.8" fill="#619CFF" stroke="#000" stroke-opacity="0.7" stroke-width="0.45"/>
<text class="c" x="68.48" y="690.12">GAU</text>
<rect x="75.32" y="678.4" width="12.48" height="5.95" rx="0.8" ry="0.8" fill="#F564E3" stroke="#000" stroke-opacity="0.7" stroke-width="0.45"/>
<text class="c" x="81.56" y="682.92">UGC</text>
<rect x="75.32" y="685.6" width="12.48" height="5.95" rx="0.8" ry="0.8" fill="#619CFF" stroke="#000" stroke-opacity="0.7" stroke-width="0.45"/>
<text class="c" x="81.56" y="690.12">UGU</text>
<rect x="88.4" y="678.4" width="12.48" height="5.95" rx="0.8" ry="0.8" fill="#F564E3" stroke="#000" stroke-opacity="0.7" stroke-width="0.45"/>
<text class="c" x="94.64" y="682.92">CAA</text>
<rect x="88.4" y="685.6" width="12.48" height="5.95" rx="0.8" ry="0.8" fill="#619CFF" stroke="#000" stroke-opacity="0.7" stroke-width="0.45"/>
<text class="c" x="94.64" y="690.12">CAG</text>
<rect x="101.48" y="678.4" width="12.48" height="5.95" rx="0.8" ry="0.8" fill="#F564E3" stroke="#000" stroke-opacity="0.7" stroke-width="0.45"/>
<text class="c" x="107.72" y="682.92">GAA</text>
<rect x="101.48" y="685.6" width="12.48" height="5.95" rx="0.8" ry="0.8" fill="#619CFF" stroke="#000" stroke-opacity="0.7" stroke-width="0.45"/>
<text class="c" x="107.72" y="690.12">GAG</text>
<rect x="114.55" y="678.4" width="12.48" height="5.95" rx="0.8" ry="0.8" fill="#F564E3" stroke="#000" stroke-opacity="0.7" stroke-width="0.45"/>
<text class="c" x="120.79" y="682.92">GGA</text>
<rect x="114.55" y="685.6" width="12.48" height="5.95" rx="0.8" ry="0.8" fill="#619CFF" stroke="#000" stroke-opacity="0.7" stroke-width="0.45"/>
<text class="c" x="120.79" y="690.12">GGC</text>
<rect x="114.55" y="692.75" width="12.48" height="5.95" rx="0.8" ry="0.8" fill="#00BFC4" stroke="#000" stroke-opacity="0.7" stroke-width="0.45"/>
<text class="c" x="120.79" y="697.27">GGG</text>
<rect x="114.55" y="699.9" width="12.48" height="5.95" rx="0.8" ry="0.8" fill="#00BA38" stroke="#000" stroke-opacity="0.7" stroke-width="0.45"/>
<text class="c" x="120.79" y="704.42">GGU</text>
<rect x="127.63" y="678.4" width="12.48" height="5.95" rx="0.8" ry="0.8" fill="#F564E3" stroke="#000" stroke-opacity="0.7" stroke-width="0.45"/>
<text class="c" x="133.87" y="682.92">CAC</text>
<rect x="127.63" y="685.6" width="12.48" height="5.95" rx="0.8" ry="0.8" fill="#619CFF" stroke="#000" stroke-opacity="0.7" stroke-width="0.45"/>
<text class="c" x="133.87" y="690.12">CAU</text>
<rect x="140.71" y="678.4" width="12.48" height="5.95" rx="0.8" ry="0.8" fill="#F564E3" stroke="#000" stroke-opacity="0.7" stroke-width="0.45"/>
<text class="c" x="146.95" y="682.92">AUA</text>
<rect x="140.71" y="685.6" width="12.48" height="5.95" rx="0.8" ry="0.8" fill="#619CFF" stroke="#000" stroke-opacity="0.7" stroke-width="0.45"/>
<text class="c" x="146.95" y="690.12">AUC</text>
<rect x="140.71" y="692.75" width="12.48" height="5.95" rx="0.8" ry="0.8" fill="#00BFC4" stroke="#000" stroke-opacity="0.7" stroke-width="0.45"/>
<text class="c" x="146.95" y="697.27">AUU</text>
<rect x="153.79" y="678.4" width="12.48" height="5.95" rx="0.8" ry="0.8" fill="#F564E3" stroke="#000" stroke-opacity="0.7" stroke-width="0.45"/>
<text class="c" x="160.03" y="682.92">CUA</text>
<rect x="153.79" y="685.6" width="12.48" height="5.95" rx="0.8" ry="0.8" fill="#619CFF" stroke="#000" stroke-opacity="0.7" stroke-width="0.45"/>
<text class="c" x="160.03" y="690.12">CUC</text>
<rect x="153.79" y="692.75" width="12.48" height="5.95" rx="0.8" ry="0.8" fill="#00BFC4" stroke="#000" stroke-opacity="0.7" stroke-width="0.45"/>
<text class="c" x="160.03" y="697.27">CUG</text>
<rect x="153.79" y="699.9" width="12.48" height="5.95" rx="0.8" ry="0.8" fill="#00BA38" stroke="#000" stroke-opacity="0.7" stroke-width="0.45"/>
<text class="c" x="160.03" y="704.42">CUU</text>
<rect x="153.79" y="707.1" width="12.48" height="5.95" rx="0.8" ry="0.8" fill="#B79F00" stroke="#000" stroke-opacity="0.7" stroke-width="0.45"/>
<text class="c" x="160.03" y="711.62">UUA</text>
<rect x="153.79" y="714.25" width="12.48" height="5.95" rx="0.8" ry="0.8" fill="#F8766D" stroke="#000" stroke-opacity="0.7" stroke-width="0.45"/>
<text class="c" x="160.03" y="718.77">UUG</text>
<rect x="166.87" y="678.4" width="12.48" height="5.95" rx="0.8" ry="0.8" fill="#F564E3" stroke="#000" stroke-opacity="0.7" stroke-width="0.45"/>
<text class="c" x="173.11" y="682.92">AAA</text>
<rect x="166.87" y="685.6" width="12.48" height="5.95" rx="0.8" ry="0.8" fill="#619CFF" stroke="#000" stroke-opacity="0.7" stroke-width="0.45"/>
<text class="c" x="173.11" y="690.12">AAG</text>
<rect x="179.95" y="678.4" width="12.48" height="5.95" rx="0.8" ry="0.8" fill="#F564E3" stroke="#000" stroke-opacity="0.7" stroke-width="0.45"/>
<text class="c" x="186.18" y="682.92">UUC</text>
<rect x="179.95" y="685.6" width="12.48" height="5.95" rx="0.8" ry="0.8" fill="#619CFF" stroke="#000" stroke-opacity="0.7" stroke-width="0.45"/>
<text class="c" x="186.18" y="690.12">UUU</text>
<rect x="193.02" y="678.4" width="12.48" height="5.95" rx="0.8" ry="0.8" fill="#F564E3" stroke="#000" stroke-opacity="0.7" stroke-width="0.45"/>
<text class="c" x="199.26" y="682.92">CCA</text>
<rect x="193.02" y="685.6" width="12.48" height="5.95" rx="0.8" ry="0.8" fill="#619CFF" stroke="#000" stroke-opacity="0.7" stroke-width="0.45"/>
<text class="c" x="199.26" y="690.12">CCC</text>
<rect x="193.02" y="692.75" width="12.48" height="5.95" rx="0.8" ry="0.8" fill="#00BFC4" stroke="#000" stroke-opacity="0.7" stroke-width="0.45"/>
<text class="c" x="199.26" y="697.27">CCG</text>
<rect x="193.02" y="699.9" width="12.48" height="5.95" rx="0.8" ry="0.8" fill="#00BA38" stroke="#000" stroke-opacity="0.7" stroke-width="0.45"/>
<text class="c" x="199.26" y="704.42">CCU</text>
<rect x="206.1" y="678.4" width="12.48" height="5.95" rx="0.8" ry="0.8" fill="#F564E3" stroke="#000" stroke-opacity="0.7" stroke-width="0.45"/>
<text class="c" x="212.34" y="682.92">AGC</text>
<rect x="206.1" y="685.6" width="12.48" height="5.95" rx="0.8" ry="0.8" fill="#619CFF" stroke="#000" stroke-opacity="0.7" stroke-width="0.45"/>
<text class="c" x="212.34" y="690.12">AGU</text>
<rect x="206.1" y="692.75" width="12.48" height="5.95" rx="0.8" ry="0.8" fill="#00BFC4" stroke="#000" stroke-opacity="0.7" stroke-width="0.45"/>
<text class="c" x="212.34" y="697.27">UCA</text>
<rect x="206.1" y="699.9" width="12.48" height="5.95" rx="0.8" ry="0.8" fill="#00BA38" stroke="#000" stroke-opacity="0.7" stroke-width="0.45"/>
<text class="c" x="212.34" y="704.42">UCC</text>
<rect x="206.1" y="707.1" width="12.48" height="5.95" rx="0.8" ry="0.8" fill="#B79F00" stroke="#000" stroke-opacity="0.7" stroke-width="0.45"/>
<text class="c" x="212.34" y="711.62">UCG</text>
<rect x="206.1" y="714.25" width="12.48" height="5.95" rx="0.8" ry="0.8" fill="#F8766D" stroke="#000" stroke-opacity="0.7" stroke-width="0.45"/>
<text class="c" x="212.34" y="718.77">UCU</text>
<rect x="219.18" y="678.4" width="12.48" height="5.95" rx="0.8" ry="0.8" fill="#F564E3" stroke="#000" stroke-opacity="0.7" stroke-width="0.45"/>
<text class="c" x="225.42" y="682.92">ACA</text>
<rect x="219.18" y="685.6" width="12.48" height="5.95" rx="0.8" ry="0.8" fill="#619CFF" stroke="#000" stroke-opacity="0.7" stroke-width="0.45"/>
<text class="c" x="225.42" y="690.12">ACC</text>
<rect x="219.18" y="692.75" width="12.48" height="5.95" rx="0.8" ry="0.8" fill="#00BFC4" stroke="#000" stroke-opacity="0.7" stroke-width="0.45"/>
<text class="c" x="225.42" y="697.27">ACG</text>
<rect x="219.18" y="699.9" width="12.48" height="5.95" rx="0.8" ry="0.8" fill="#00BA38" stroke="#000" stroke-opacity="0.7" stroke-width="0.45"/>
<text class="c" x="225.42" y="704.42">ACU</text>
<rect x="232.26" y="678.4" width="12.48" height="5.95" rx="0.8" ry="0.8" fill="#F564E3" stroke="#000" stroke-opacity="0.7" stroke-width="0.45"/>
<text class="c" x="238.5" y="682.92">UGG</text>
<rect x="245.34" y="678.4" width="12.48" height="5.95" rx="0.8" ry="0.8" fill="#F564E3" stroke="#000" stroke-opacity="0.7" stroke-width="0.45"/>
<text class="c" x="251.58" y="682.92">UAC</text>
<rect x="245.34" y="685.6" width="12.48" height="5.95" rx="0.8" ry="0.8" fill="#619CFF" stroke="#000" stroke-opacity="0.7" stroke-width="0.45"/>
<text class="c" x="251.58" y="690.12">UAU</text>
<rect x="258.41" y="678.4" width="12.48" height="5.95" rx="0.8" ry="0.8" fill="#F564E3" stroke="#000" stroke-opacity="0.7" stroke-width="0.45"/>
<text class="c" x="264.65" y="682.92">GUA</text>
<rect x="258.41" y="685.6" width="12.48" height="5.95" rx="0.8" ry="0.8" fill="#619CFF" stroke="#000" stroke-opacity="0.7" stroke-width="0.45"/>
<text class="c" x="264.65" y="690.12">GUC</text>
<rect x="258.41" y="692.75" width="12.48" height="5.95" rx="0.8" ry="0.8" fill="#00BFC4" stroke="#000" stroke-opacity="0.7" stroke-width="0.45"/>
<text class="c" x="264.65" y="697.27">GUG</text>
<rect x="258.41" y="699.9" width="12.48" height="5.95" rx="0.8" ry="0.8" fill="#00BA38" stroke="#000" stroke-opacity="0.7" stroke-width="0.45"/>
<text class="c" x="264.65" y="704.42">GUU</text>
</g>
<g>
<rect x="291.32" y="678.4" width="12.56" height="5.95" rx="0.8" ry="0.8" fill="#F564E3" stroke="#000" stroke-opacity="0.7" stroke-width="0.45"/>
<text class="c" x="297.6" y="682.92">GCA</text>
<rect x="291.32" y="685.6" width="12.56" height="5.95" rx="0.8" ry="0.8" fill="#619CFF" stroke="#000" stroke-opacity="0.7" stroke-width="0.45"/>
<text class="c" x="297.6" y="690.12">GCC</text>
<rect x="291.32" y="692.75" width="12.56" height="5.95" rx="0.8" ry="0.8" fill="#00BFC4" stroke="#000" stroke-opacity="0.7" stroke-width="0.45"/>
<text class="c" x="297.6" y="697.27">GCG</text>
<rect x="291.32" y="699.9" width="12.56" height="5.95" rx="0.8" ry="0.8" fill="#00BA38" stroke="#000" stroke-opacity="0.7" stroke-width="0.45"/>
<text class="c" x="297.6" y="704.42">GCU</text>
<rect x="304.48" y="678.4" width="12.56" height="5.95" rx="0.8" ry="0.8" fill="#F564E3" stroke="#000" stroke-opacity="0.7" stroke-width="0.45"/>
<text class="c" x="310.76" y="682.92">AGA</text>
<rect x="304.48" y="685.6" width="12.56" height="5.95" rx="0.8" ry="0.8" fill="#619CFF" stroke="#000" stroke-opacity="0.7" stroke-width="0.45"/>
<text class="c" x="310.76" y="690.12">AGG</text>
<rect x="304.48" y="692.75" width="12.56" height="5.95" rx="0.8" ry="0.8" fill="#00BFC4" stroke="#000" stroke-opacity="0.7" stroke-width="0.45"/>
<text class="c" x="310.76" y="697.27">CGA</text>
<rect x="304.48" y="699.9" width="12.56" height="5.95" rx="0.8" ry="0.8" fill="#00BA38" stroke="#000" stroke-opacity="0.7" stroke-width="0.45"/>
<text class="c" x="310.76" y="704.42">CGC</text>
<rect x="304.48" y="707.1" width="12.56" height="5.95" rx="0.8" ry="0.8" fill="#B79F00" stroke="#000" stroke-opacity="0.7" stroke-width="0.45"/>
<text class="c" x="310.76" y="711.62">CGG</text>
<rect x="304.48" y="714.25" width="12.56" height="5.95" rx="0.8" ry="0.8" fill="#F8766D" stroke="#000" stroke-opacity="0.7" stroke-width="0.45"/>
<text class="c" x="310.76" y="718.77">CGU</text>
<rect x="317.64" y="678.4" width="12.56" height="5.95" rx="0.8" ry="0.8" fill="#F564E3" stroke="#000" stroke-opacity="0.7" stroke-width="0.45"/>
<text class="c" x="323.92" y="682.92">AAC</text>
<rect x="317.64" y="685.6" width="12.56" height="5.95" rx="0.8" ry="0.8" fill="#619CFF" stroke="#000" stroke-opacity="0.7" stroke-width="0.45"/>
<text class="c" x="323.92" y="690.12">AAU</text>
<rect x="330.8" y="678.4" width="12.56" height="5.95" rx="0.8" ry="0.8" fill="#F564E3" stroke="#000" stroke-opacity="0.7" stroke-width="0.45"/>
<text class="c" x="337.08" y="682.92">GAC</text>
<rect x="330.8" y="685.6" width="12.56" height="5.95" rx="0.8" ry="0.8" fill="#619CFF" stroke="#000" stroke-opacity="0.7" stroke-width="0.45"/>
<text class="c" x="337.08" y="690.12">GAU</text>
<rect x="343.96" y="678.4" width="12.56" height="5.95" rx="0.8" ry="0.8" fill="#F564E3" stroke="#000" stroke-opacity="0.7" stroke-width="0.45"/>
<text class="c" x="350.24" y="682.92">UGC</text>
<rect x="343.96" y="685.6" width="12.56" height="5.95" rx="0.8" ry="0.8" fill="#619CFF" stroke="#000" stroke-opacity="0.7" stroke-width="0.45"/>
<text class="c" x="350.24" y="690.12">UGU</text>
<rect x="357.12" y="678.4" width="12.56" height="5.95" rx="0.8" ry="0.8" fill="#F564E3" stroke="#000" stroke-opacity="0.7" stroke-width="0.45"/>
<text class="c" x="363.4" y="682.92">CAA</text>
<rect x="357.12" y="685.6" width="12.56" height="5.95" rx="0.8" ry="0.8" fill="#619CFF" stroke="#000" stroke-opacity="0.7" stroke-width="0.45"/>
<text class="c" x="363.4" y="690.12">CAG</text>
<rect x="370.28" y="678.4" width="12.56" height="5.95" rx="0.8" ry="0.8" fill="#F564E3" stroke="#000" stroke-opacity="0.7" stroke-width="0.45"/>
<text class="c" x="376.57" y="682.92">GAA</text>
<rect x="370.28" y="685.6" width="12.56" height="5.95" rx="0.8" ry="0.8" fill="#619CFF" stroke="#000" stroke-opacity="0.7" stroke-width="0.45"/>
<text class="c" x="376.57" y="690.12">GAG</text>
<rect x="383.45" y="678.4" width="12.56" height="5.95" rx="0.8" ry="0.8" fill="#F564E3" stroke="#000" stroke-opacity="0.7" stroke-width="0.45"/>
<text class="c" x="389.73" y="682.92">GGA</text>
<rect x="383.45" y="685.6" width="12.56" height="5.95" rx="0.8" ry="0.8" fill="#619CFF" stroke="#000" stroke-opacity="0.7" stroke-width="0.45"/>
<text class="c" x="389.73" y="690.12">GGC</text>
<rect x="383.45" y="692.75" width="12.56" height="5.95" rx="0.8" ry="0.8" fill="#00BFC4" stroke="#000" stroke-opacity="0.7" stroke-width="0.45"/>
<text class="c" x="389.73" y="697.27">GGG</text>
<rect x="383.45" y="699.9" width="12.56" height="5.95" rx="0.8" ry="0.8" fill="#00BA38" stroke="#000" stroke-opacity="0.7" stroke-width="0.45"/>
<text class="c" x="389.73" y="704.42">GGU</text>
<rect x="396.61" y="678.4" width="12.56" height="5.95" rx="0.8" ry="0.8" fill="#F564E3" stroke="#000" stroke-opacity="0.7" stroke-width="0.45"/>
<text class="c" x="402.89" y="682.92">CAC</text>
<rect x="396.61" y="685.6" width="12.56" height="5.95" rx="0.8" ry="0.8" fill="#619CFF" stroke="#000" stroke-opacity="0.7" stroke-width="0.45"/>
<text class="c" x="402.89" y="690.12">CAU</text>
<rect x="409.77" y="678.4" width="12.56" height="5.95" rx="0.8" ry="0.8" fill="#F564E3" stroke="#000" stroke-opacity="0.7" stroke-width="0.45"/>
<text class="c" x="416.05" y="682.92">AUA</text>
<rect x="409.77" y="685.6" width="12.56" height="5.95" rx="0.8" ry="0.8" fill="#619CFF" stroke="#000" stroke-opacity="0.7" stroke-width="0.45"/>
<text class="c" x="416.05" y="690.12">AUC</text>
<rect x="409.77" y="692.75" width="12.56" height="5.95" rx="0.8" ry="0.8" fill="#00BFC4" stroke="#000" stroke-opacity="0.7" stroke-width="0.45"/>
<text class="c" x="416.05" y="697.27">AUU</text>
<rect x="422.93" y="678.4" width="12.56" height="5.95" rx="0.8" ry="0.8" fill="#F564E3" stroke="#000" stroke-opacity="0.7" stroke-width="0.45"/>
<text class="c" x="429.21" y="682.92">CUA</text>
<rect x="422.93" y="685.6" width="12.56" height="5.95" rx="0.8" ry="0.8" fill="#619CFF" stroke="#000" stroke-opacity="0.7" stroke-width="0.45"/>
<text class="c" x="429.21" y="690.12">CUC</text>
<rect x="422.93" y="692.75" width="12.56" height="5.95" rx="0.8" ry="0.8" fill="#00BFC4" stroke="#000" stroke-opacity="0.7" stroke-width="0.45"/>
<text class="c" x="429.21" y="697.27">CUG</text>
<rect x="422.93" y="699.9" width="12.56" height="5.95" rx="0.8" ry="0.8" fill="#00BA38" stroke="#000" stroke-opacity="0.7" stroke-width="0.45"/>
<text class="c" x="429.21" y="704.42">CUU</text>
<rect x="422.93" y="707.1" width="12.56" height="5.95" rx="0.8" ry="0.8" fill="#B79F00" stroke="#000" stroke-opacity="0.7" stroke-width="0.45"/>
<text class="c" x="429.21" y="711.62">UUA</text>
<rect x="422.93" y="714.25" width="12.56" height="5.95" rx="0.8" ry="0.8" fill="#F8766D" stroke="#000" stroke-opacity="0.7" stroke-width="0.45"/>
<text class="c" x="429.21" y="718.77">UUG</text>
<rect x="436.09" y="678.4" width="12.56" height="5.95" rx="0.8" ry="0.8" fill="#F564E3" stroke="#000" stroke-opacity="0.7" stroke-width="0.45"/>
<text class="c" x="442.37" y="682.92">AAA</text>
<rect x="436.09" y="685.6" width="12.56" height="5.95" rx="0.8" ry="0.8" fill="#619CFF" stroke="#000" stroke-opacity="0.7" stroke-width="0.45"/>
<text class="c" x="442.37" y="690.12">AAG</text>
<rect x="449.25" y="678.4" width="12.56" height="5.95" rx="0.8" ry="0.8" fill="#F564E3" stroke="#000" stroke-opacity="0.7" stroke-width="0.45"/>
<text class="c" x="455.53" y="682.92">UUC</text>
<rect x="449.25" y="685.6" width="12.56" height="5.95" rx="0.8" ry="0.8" fill="#619CFF" stroke="#000" stroke-opacity="0.7" stroke-width="0.45"/>
<text class="c" x="455.53" y="690.12">UUU</text>
<rect x="462.42" y="678.4" width="12.56" height="5.95" rx="0.8" ry="0.8" fill="#F564E3" stroke="#000" stroke-opacity="0.7" stroke-width="0.45"/>
<text class="c" x="468.7" y="682.92">CCA</text>
<rect x="462.42" y="685.6" width="12.56" height="5.95" rx="0.8" ry="0.8" fill="#619CFF" stroke="#000" stroke-opacity="0.7" stroke-width="0.45"/>
<text class="c" x="468.7" y="690.12">CCC</text>
<rect x="462.42" y="692.75" width="12.56" height="5.95" rx="0.8" ry="0.8" fill="#00BFC4" stroke="#000" stroke-opacity="0.7" stroke-width="0.45"/>
<text class="c" x="468.7" y="697.27">CCG</text>
<rect x="462.42" y="699.9" width="12.56" height="5.95" rx="0.8" ry="0.8" fill="#00BA38" stroke="#000" stroke-opacity="0.7" stroke-width="0.45"/>
<text class="c" x="468.7" y="704.42">CCU</text>
<rect x="475.58" y="678.4" width="12.56" height="5.95" rx="0.8" ry="0.8" fill="#F564E3" stroke="#000" stroke-opacity="0.7" stroke-width="0.45"/>
<text class="c" x="481.86" y="682.92">AGC</text>
<rect x="475.58" y="685.6" width="12.56" height="5.95" rx="0.8" ry="0.8" fill="#619CFF" stroke="#000" stroke-opacity="0.7" stroke-width="0.45"/>
<text class="c" x="481.86" y="690.12">AGU</text>
<rect x="475.58" y="692.75" width="12.56" height="5.95" rx="0.8" ry="0.8" fill="#00BFC4" stroke="#000" stroke-opacity="0.7" stroke-width="0.45"/>
<text class="c" x="481.86" y="697.27">UCA</text>
<rect x="475.58" y="699.9" width="12.56" height="5.95" rx="0.8" ry="0.8" fill="#00BA38" stroke="#000" stroke-opacity="0.7" stroke-width="0.45"/>
<text class="c" x="481.86" y="704.42">UCC</text>
<rect x="475.58" y="707.1" width="12.56" height="5.95" rx="0.8" ry="0.8" fill="#B79F00" stroke="#000" stroke-opacity="0.7" stroke-width="0.45"/>
<text class="c" x="481.86" y="711.62">UCG</text>
<rect x="475.58" y="714.25" width="12.56" height="5.95" rx="0.8" ry="0.8" fill="#F8766D" stroke="#000" stroke-opacity="0.7" stroke-width="0.45"/>
<text class="c" x="481.86" y="718.77">UCU</text>
<rect x="488.74" y="678.4" width="12.56" height="5.95" rx="0.8" ry="0.8" fill="#F564E3" stroke="#000" stroke-opacity="0.7" stroke-width="0.45"/>
<text class="c" x="495.02" y="682.92">ACA</text>
<rect x="488.74" y="685.6" width="12.56" height="5.95" rx="0.8" ry="0.8" fill="#619CFF" stroke="#000" stroke-opacity="0.7" stroke-width="0.45"/>
<text class="c" x="495.02" y="690.12">ACC</text>
<rect x="488.74" y="692.75" width="12.56" height="5.95" rx="0.8" ry="0.8" fill="#00BFC4" stroke="#000" stroke-opacity="0.7" stroke-width="0.45"/>
<text class="c" x="495.02" y="697.27">ACG</text>
<rect x="488.74" y="699.9" width="12.56" height="5.95" rx="0.8" ry="0.8" fill="#00BA38" stroke="#000" stroke-opacity="0.7" stroke-width="0.45"/>
<text class="c" x="495.02" y="704.42">ACU</text>
<rect x="501.9" y="678.4" width="12.56" height="5.95" rx="0.8" ry="0.8" fill="#F564E3" stroke="#000" stroke-opacity="0.7" stroke-width="0.45"/>
<text class="c" x="508.18" y="682.92">UGG</text>
<rect x="515.06" y="678.4" width="12.56" height="5.95" rx="0.8" ry="0.8" fill="#F564E3" stroke="#000" stroke-opacity="0.7" stroke-width="0.45"/>
<text class="c" x="521.34" y="682.92">UAC</text>
<rect x="515.06" y="685.6" width="12.56" height="5.95" rx="0.8" ry="0.8" fill="#619CFF" stroke="#000" stroke-opacity="0.7" stroke-width="0.45"/>
<text class="c" x="521.34" y="690.12">UAU</text>
<rect x="528.22" y="678.4" width="12.56" height="5.95" rx="0.8" ry="0.8" fill="#F564E3" stroke="#000" stroke-opacity="0.7" stroke-width="0.45"/>
<text class="c" x="534.5" y="682.92">GUA</text>
<rect x="528.22" y="685.6" width="12.56" height="5.95" rx="0.8" ry="0.8" fill="#619CFF" stroke="#000" stroke-opacity="0.7" stroke-width="0.45"/>
<text class="c" x="534.5" y="690.12">GUC</text>
<rect x="528.22" y="692.75" width="12.56" height="5.95" rx="0.8" ry="0.8" fill="#00BFC4" stroke="#000" stroke-opacity="0.7" stroke-width="0.45"/>
<text class="c" x="534.5" y="697.27">GUG</text>
<rect x="528.22" y="699.9" width="12.56" height="5.95" rx="0.8" ry="0.8" fill="#00BA38" stroke="#000" stroke-opacity="0.7" stroke-width="0.45"/>
<text class="c" x="534.5" y="704.42">GUU</text>
</g>
</svg></body></html>
